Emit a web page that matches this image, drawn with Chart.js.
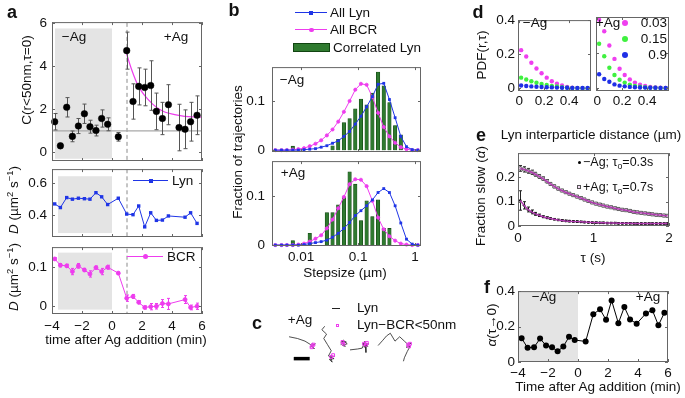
<!DOCTYPE html>
<html>
<head>
<meta charset="utf-8">
<script src="https://cdn.jsdelivr.net/npm/chart.js@4.4.1/dist/chart.umd.min.js"></script>
<style>
  html, body { margin: 0; padding: 0; background: #fff; }
  #fig { position: relative; width: 685px; height: 398px; overflow: hidden;
         font-family: "Liberation Sans", Arial, Helvetica, sans-serif; color: #111; }
  #fig canvas { position: absolute; z-index: 1; }
  .t { position: absolute; z-index: 2; font-size: 13.5px; line-height: 1; white-space: nowrap; transform: translate(-50%, -50%); }
  .l { transform: translate(0, -50%); }
  .r { transform: translate(-100%, -50%); }
  .v { transform: translate(-50%, -50%) rotate(-90deg); }
  .p { font-weight: bold; font-size: 18px; }
  .sm { font-size: 12.5px; }
  sup, sub { font-size: 70%; line-height: 0; }
  .sw { position: absolute; z-index: 2; box-sizing: border-box; }
</style>
</head>
<body>
<div id="fig">
  <!-- panel letters -->
  <div class="t p" style="left:12px;top:12px">a</div>
  <div class="t p" style="left:234px;top:10px">b</div>
  <div class="t p" style="left:257px;top:323px">c</div>
  <div class="t p" style="left:478px;top:12px">d</div>
  <div class="t p" style="left:481px;top:135px">e</div>
  <div class="t p" style="left:487px;top:287px">f</div>

  <!-- a -->
  <div class="t" style="left:74px;top:37px">&minus;Ag</div>
  <div class="t" style="left:176px;top:37px">+Ag</div>
  <div class="t v" style="left:27px;top:80px">C(r&lt;50nm,&tau;=0)</div>
  <div class="t v" style="left:14px;top:200px"><i>D</i> (&micro;m<sup>2</sup> s<sup>&minus;1</sup>)</div>
  <div class="t v" style="left:14px;top:277px"><i>D</i> (&micro;m<sup>2</sup> s<sup>&minus;1</sup>)</div>
  <div class="t" style="left:126px;top:340px">time after Ag addition (min)</div>
  <div class="sw" style="left:133px;top:180px;width:35px;border-top:1px solid #1f35e6"></div>
  <div class="sw" style="left:148.5px;top:179px;width:4px;height:4px;background:#1f35e6"></div>
  <div class="t l" style="left:172px;top:181px">Lyn</div>
  <div class="sw" style="left:127px;top:256px;width:36px;border-top:1px solid #ee3cee"></div>
  <div class="sw" style="left:142.5px;top:254px;width:5px;height:5px;border-radius:50%;background:#ee3cee"></div>
  <div class="t l" style="left:167px;top:257px">BCR</div>

  <!-- b -->
  <div class="sw" style="left:295px;top:12px;width:32px;border-top:1px solid #1f35e6"></div>
  <div class="sw" style="left:309px;top:10.5px;width:4px;height:4px;background:#1f35e6"></div>
  <div class="t l" style="left:330px;top:13px">All Lyn</div>
  <div class="sw" style="left:295px;top:29px;width:32px;border-top:1px solid #ee3cee"></div>
  <div class="sw" style="left:309px;top:27.5px;width:4.5px;height:4.5px;border-radius:50%;background:#ee3cee"></div>
  <div class="t l" style="left:330px;top:30px">All BCR</div>
  <div class="sw" style="left:293px;top:43px;width:37px;height:9px;background:#2f7a2f;border:1px solid #114411"></div>
  <div class="t l" style="left:333px;top:48px">Correlated Lyn</div>
  <div class="t" style="left:292px;top:80px">&minus;Ag</div>
  <div class="t" style="left:293px;top:173px">+Ag</div>
  <div class="t v" style="left:238px;top:152px">Fraction of trajectories</div>
  <div class="t" style="left:345px;top:273px">Stepsize (&micro;m)</div>

  <!-- c -->
  <div class="t" style="left:300px;top:320px">+Ag</div>
  <div class="sw" style="left:332px;top:308px;width:8px;border-top:1px solid #222"></div>
  <div class="t l" style="left:357px;top:308px">Lyn</div>
  <div class="sw" style="left:335.5px;top:323.5px;width:3.5px;height:3.5px;border:1px solid #ee3cee"></div>
  <div class="t l" style="left:357px;top:325px">Lyn&minus;BCR&lt;50nm</div>

  <!-- d -->
  <div class="t v" style="left:482px;top:55px">PDF(r,&tau;)</div>
  <div class="t" style="left:535px;top:23px">&minus;Ag</div>
  <div class="t" style="left:608px;top:23px">+Ag</div>
  <div class="sw" style="left:622px;top:20px;width:6px;height:6px;border-radius:50%;background:#ef3fef"></div>
  <div class="sw" style="left:622px;top:36px;width:6px;height:6px;border-radius:50%;background:#3ff03f"></div>
  <div class="sw" style="left:622px;top:52px;width:6px;height:6px;border-radius:50%;background:#1f2fe6"></div>
  <div class="t r" style="left:667px;top:23px">0.03</div>
  <div class="t r" style="left:667px;top:39px">0.15</div>
  <div class="t r" style="left:667px;top:55px">0.9</div>
  <div class="t" style="left:591px;top:135px">Lyn interparticle distance (&micro;m)</div>

  <!-- e -->
  <div class="t v" style="left:481px;top:196px">Fraction slow (<i>&alpha;</i>)</div>
  <div class="sw" style="left:577.5px;top:160.5px;width:3px;height:3px;border-radius:50%;background:#000"></div>
  <div class="t l sm" style="left:583px;top:162px">&minus;Ag; &tau;<sub>o</sub>=0.3s</div>
  <div class="sw" style="left:577px;top:185px;width:4px;height:4px;border:1px solid #555;background:#f3dcf3"></div>
  <div class="t l sm" style="left:583px;top:187px">+Ag; &tau;<sub>o</sub>=0.7s</div>
  <div class="t" style="left:593px;top:258px">&tau; (s)</div>

  <!-- f -->
  <div class="t v" style="left:492px;top:325px"><i>&alpha;</i>(&tau;&rarr;0)</div>
  <div class="t" style="left:544px;top:297px">&minus;Ag</div>
  <div class="t" style="left:648px;top:297px">+Ag</div>
  <div class="t" style="left:598px;top:387px">Time after Ag addition (min)</div>
</div>

<script>
// ---- a: colocalisation and diffusion vs time ----
const aTime = [-3.82, -3.44, -3.02, -2.64, -2.24, -1.84, -1.47, -1.07, -0.69, -0.29, 0.42, 0.98, 1.4, 1.78, 2.18, 2.58, 2.96, 3.36, 3.76, 4.47, 4.87, 5.24, 5.67];
const aCorr = [1.42, 0.3, 2.09, 0.74, 1.22, 1.79, 1.19, 1.01, 1.57, 1.3, 0.72, 4.72, 2.36, 3.06, 3.01, 3.1, 1.9, 1.57, 2.21, 1.15, 1.07, 1.42, 1.72];
const aCorrErr = [0.38, 0.12, 0.45, 0.25, 0.35, 0.45, 0.3, 0.25, 0.4, 0.3, 0.2, 0.86, 0.82, 0.86, 0.85, 1.15, 0.85, 0.75, 0.93, 1.08, 0.9, 0.9, 0.9];
const aFitT = [0.98, 1.29, 1.62, 1.96, 2.4, 2.96, 3.51, 4.18, 4.84, 5.73, 6];
const aFitC = [4.55, 3.88, 3.28, 2.84, 2.46, 2.09, 1.87, 1.75, 1.67, 1.64, 1.63];
const aTimeD = [-3.82, -3.44, -3.02, -2.64, -2.24, -1.84, -1.47, -1.07, -0.69, -0.29, 0.42, 0.98, 1.4, 1.78, 2.18, 2.58, 2.96, 3.36, 3.76, 4.87, 5.24, 5.67];
const aLynD = [0.47, 0.447, 0.51, 0.5, 0.506, 0.503, 0.5, 0.541, 0.515, 0.466, 0.506, 0.406, 0.402, 0.457, 0.325, 0.414, 0.366, 0.368, 0.394, 0.386, 0.414, 0.347];
const aBcrD = [0.12, 0.104, 0.1025, 0.088, 0.1025, 0.092, 0.082, 0.098, 0.088, 0.099, 0.084, 0.0205, 0.025, 0.01, -0.003, -0.001, 0, 0.007, 0.006, 0.017, -0.003, 0];
const aBcrErr = [0.003, 0.004, 0.004, 0.008, 0.006, 0.004, 0.008, 0.004, 0.008, 0.005, 0.003, 0.008, 0.005, 0.004, 0.004, 0.008, 0.007, 0.01, 0.014, 0.01, 0.006, 0.008];
const aTimeTicks = [-4, -2, 0, 2, 4, 6];
const aCorrTicks = [0, 2, 4, 6];
const aLynTicks = [0.4, 0.6];
const aBcrTicks = [0, 0.1];
const aBaseline = 1;
const aAgLine = 1;

// ---- b: step size histograms ----
const bStep = [0.0035, 0.0045, 0.0056, 0.0071, 0.0089, 0.0112, 0.0141, 0.0178, 0.0224, 0.0282, 0.0355, 0.0447, 0.0562, 0.0708, 0.0891, 0.112, 0.141, 0.178, 0.224, 0.282, 0.355, 0.447, 0.562, 0.708, 0.891, 1.12];
const bLynMinus = [0, 0, 0, 0, 0, 0.001, 0.002, 0.003, 0.006, 0.009, 0.014, 0.019, 0.028, 0.038, 0.053, 0.069, 0.088, 0.109, 0.134, 0.136, 0.103, 0.066, 0.028, 0.007, 0.001, 0];
const bBcrMinus = [0, 0, 0, 0.001, 0.002, 0.004, 0.008, 0.013, 0.02, 0.03, 0.042, 0.058, 0.078, 0.1, 0.123, 0.135, 0.133, 0.108, 0.076, 0.047, 0.028, 0.015, 0.006, 0.002, 0, 0];
const bCorrMinus = [0, 0, 0, 0.008, 0, 0, 0, 0, 0, 0, 0.009, 0.022, 0.056, 0.064, 0.084, 0.104, 0.092, 0.116, 0.159, 0.131, 0.097, 0.05, 0.031, 0, 0, 0];
const bLynPlus = [0, 0, 0, 0, 0, 0.001, 0.003, 0.005, 0.007, 0.01, 0.016, 0.024, 0.034, 0.046, 0.06, 0.07, 0.08, 0.092, 0.107, 0.115, 0.107, 0.08, 0.045, 0.012, 0.002, 0];
const bBcrPlus = [0, 0, 0, 0, 0.001, 0.003, 0.007, 0.013, 0.02, 0.034, 0.052, 0.075, 0.098, 0.124, 0.134, 0.133, 0.12, 0.09, 0.056, 0.032, 0.018, 0.009, 0.003, 0.001, 0, 0];
const bCorrPlus = [0, 0, 0, 0.009, 0, 0, 0.024, 0, 0, 0.066, 0.066, 0.082, 0.098, 0.149, 0.124, 0.05, 0.09, 0.058, 0.092, 0.034, 0.034, 0, 0, 0, 0, 0];
const bStepTicks = [0.01, 0.1, 1];
const bFracTicks = [0, 0.1];

// ---- c: example trajectories (arbitrary um units) ----
const cLynTracks = [
  [[1.5, 3.8], [2.4, 3.6], [3.2, 3.3], [3.8, 2.9], [4.2, 2.4], [3.9, 2.8], [4.3, 3.0], [3.8, 2.6], [4.0, 3.1]],
  [[5.3, 5.0], [5.0, 4.6], [5.5, 4.1], [5.2, 3.6], [5.6, 2.9], [6.0, 2.2], [5.7, 1.6], [6.3, 1.3], [5.8, 1.2], [6.1, 0.9], [5.9, 1.5], [6.4, 1.6]],
  [[7.0, 2.9], [7.6, 3.2], [7.1, 3.3], [7.5, 2.7], [7.2, 2.8], [7.7, 3.0], [7.3, 3.4], [7.0, 3.1]],
  [[8.0, 2.3], [8.8, 2.4], [9.3, 2.5], [9.6, 3.3], [9.5, 2.6], [10.0, 3.0], [9.3, 3.0], [9.9, 2.7], [9.6, 3.1], [9.7, 2.0]],
  [[11.0, 2.8], [11.5, 3.4], [11.9, 3.9], [12.3, 4.2], [12.8, 3.3], [13.3, 3.8], [13.8, 3.3], [14.2, 2.9], [14.5, 3.1], [14.0, 2.6], [14.4, 2.7], [14.1, 2.1], [13.8, 1.4], [13.7, 1.0]],
];
const cBcrClose = [[4.0, 2.8], [3.9, 2.6], [4.1, 2.9], [6.0, 1.5], [6.2, 1.7], [7.3, 3.0], [7.2, 3.2], [9.7, 2.9], [9.5, 3.0], [9.8, 3.1], [14.2, 2.9], [14.4, 3.0], [14.3, 2.7]];
const cScaleBar = [[2.0, 1.3], [3.7, 1.3]];

// ---- d: PDF of interparticle distance ----
const dR = [0.015, 0.056, 0.097, 0.138, 0.179, 0.22, 0.261, 0.302, 0.343, 0.384, 0.425, 0.466, 0.507, 0.548];
const dMinus003 = [0.224, 0.187, 0.15, 0.117, 0.089, 0.063, 0.042, 0.028, 0.017, 0.009, 0.005, 0.002, 0.001, 0];
const dMinus015 = [0.063, 0.052, 0.042, 0.033, 0.026, 0.02, 0.015, 0.011, 0.007, 0.005, 0.003, 0.002, 0.001, 0.001];
const dMinus09 = [0.017, 0.014, 0.012, 0.01, 0.008, 0.007, 0.006, 0.005, 0.004, 0.004, 0.003, 0.003, 0.003, 0.003];
const dPlus003 = [0.385, 0.32, 0.24, 0.165, 0.11, 0.075, 0.05, 0.032, 0.02, 0.013, 0.008, 0.005, 0.003, 0.002];
const dPlus015 = [0.25, 0.18, 0.115, 0.075, 0.048, 0.032, 0.021, 0.014, 0.009, 0.006, 0.004, 0.003, 0.002, 0.001];
const dPlus09 = [0.079, 0.052, 0.037, 0.022, 0.015, 0.011, 0.008, 0.006, 0.005, 0.004, 0.003, 0.003, 0.002, 0.002];
const dRTicks = [0, 0.2, 0.4];
const dPdfTicks = [0, 0.2, 0.4];

// ---- e: fraction slow vs lag ----
const eTau = [0.03, 0.08, 0.13, 0.18, 0.23, 0.28, 0.33, 0.38, 0.43, 0.48, 0.53, 0.58, 0.63, 0.68, 0.73, 0.78, 0.83, 0.88, 0.93, 0.98, 1.03, 1.08, 1.13, 1.18, 1.23, 1.28, 1.33, 1.38, 1.43, 1.48, 1.53, 1.58, 1.63, 1.68, 1.73, 1.78, 1.83, 1.88, 1.93, 1.98];
const ePlus = [0.237, 0.233, 0.227, 0.221, 0.213, 0.204, 0.195, 0.184, 0.173, 0.163, 0.154, 0.146, 0.139, 0.133, 0.127, 0.121, 0.115, 0.109, 0.103, 0.097, 0.092, 0.088, 0.084, 0.08, 0.077, 0.073, 0.07, 0.067, 0.065, 0.062, 0.058, 0.056, 0.054, 0.052, 0.05, 0.048, 0.046, 0.045, 0.043, 0.042];
const ePlusErr = [0.012, 0.011, 0.01, 0.009, 0.008, 0.008, 0.007, 0.007, 0.006, 0.006, 0.006, 0.005, 0.005, 0.005, 0.005, 0.005, 0.005, 0.005, 0.005, 0.005, 0.005, 0.005, 0.005, 0.005, 0.005, 0.005, 0.005, 0.005, 0.005, 0.005, 0.005, 0.005, 0.005, 0.005, 0.005, 0.005, 0.005, 0.005, 0.005, 0.005];
const eMinus = [0.105, 0.085, 0.068, 0.058, 0.05, 0.044, 0.038, 0.034, 0.031, 0.028, 0.025, 0.023, 0.021, 0.02, 0.019, 0.018, 0.017, 0.016, 0.015, 0.014, 0.014, 0.013, 0.013, 0.012, 0.012, 0.012, 0.011, 0.011, 0.011, 0.011, 0.01, 0.01, 0.01, 0.01, 0.01, 0.01, 0.01, 0.01, 0.01, 0.01];
const eMinusErr = [0.04, 0.015, 0.01, 0.008, 0.006, 0.005, 0.004, 0.004, 0.003, 0.003, 0.003, 0.003, 0.003, 0.003, 0.003, 0.003, 0.003, 0.003, 0.003, 0.003, 0.003, 0.003, 0.003, 0.003, 0.003, 0.003, 0.003, 0.003, 0.003, 0.003, 0.003, 0.003, 0.003, 0.003, 0.003, 0.003, 0.003, 0.003, 0.003, 0.003];
const eTauTicks = [0, 1, 2];
const eFracTicks = [0, 0.1, 0.2];

// ---- f: alpha(tau->0) vs time ----
const fTime = [-3.76, -3.36, -2.93, -2.53, -2.13, -1.73, -1.36, -0.98, -0.6, -0.22, 0.51, 1.02, 1.47, 1.87, 2.24, 2.69, 3.09, 3.47, 3.91, 4.53, 4.96, 5.36, 5.76];
const fAlpha = [0.134, 0.08, 0.083, 0.132, 0.093, 0.083, 0.06, 0.087, 0.142, 0.124, 0.116, 0.27, 0.297, 0.238, 0.347, 0.219, 0.31, 0.24, 0.216, 0.274, 0.292, 0.207, 0.278];
const fTimeTicks = [-4, -2, 0, 2, 4, 6];
const fAlphaTicks = [0, 0.2, 0.4];

const blue = "#1f35e6";
const magenta = "#ee3cee";
const barGreen = "#2f7a2f";
const shadeGray = "#e4e4e4";
const frameGray = "#666";
const FONT = '"Liberation Sans", Arial, Helvetica, sans-serif';
const fig = document.getElementById("fig");
const PAD = { l: 46, r: 8, t: 8, b: 26 };

const xy = (xs, ys) => xs.map((x, i) => ({ x, y: ys[i] }));
const minusSign = (v) => String(v).replace("-", "\u2212");

// grey "before antigen" block, in data units
function shade(x0, x1, y0, y1) {
  return {
    id: "shade",
    beforeDatasetsDraw(chart) {
      const { ctx, scales } = chart;
      const l = scales.x.getPixelForValue(x0), r = scales.x.getPixelForValue(x1);
      const t = scales.y.getPixelForValue(y1), b = scales.y.getPixelForValue(y0);
      ctx.save();
      ctx.fillStyle = shadeGray;
      ctx.fillRect(l, t, r - l, b - t);
      ctx.restore();
    },
  };
}

// vertical error bars from dataset.errors
const errorBars = {
  id: "errorBars",
  beforeDatasetDraw(chart, args) {
    const ds = chart.data.datasets[args.index];
    if (!ds.errors) return;
    const { ctx, chartArea: a } = chart;
    const xs = chart.scales[args.meta.xAxisID], ys = chart.scales[args.meta.yAxisID];
    const cap = ds.capWidth ?? 2;
    ctx.save();
    ctx.beginPath();
    ctx.rect(a.left, a.top, a.right - a.left, a.bottom - a.top);
    ctx.clip();
    ctx.strokeStyle = ds.errorColor || "#444";
    ctx.lineWidth = 1;
    ctx.beginPath();
    ds.data.forEach((p, i) => {
      const e = ds.errors[i];
      if (!e) return;
      const px = Math.round(xs.getPixelForValue(p.x)) + 0.5;
      const y0 = ys.getPixelForValue(p.y - e), y1 = ys.getPixelForValue(p.y + e);
      ctx.moveTo(px, y0); ctx.lineTo(px, y1);
      if (cap) {
        ctx.moveTo(px - cap, y0); ctx.lineTo(px + cap, y0);
        ctx.moveTo(px - cap, y1); ctx.lineTo(px + cap, y1);
      }
    });
    ctx.stroke();
    ctx.restore();
  },
};

// matlab style box with inward ticks on all sides
const frame = {
  id: "frame",
  afterDatasetsDraw(chart) {
    const { ctx, chartArea: a, scales } = chart;
    const L = 3;
    ctx.save();
    ctx.strokeStyle = frameGray;
    ctx.lineWidth = 1;
    ctx.beginPath();
    scales.x.ticks.forEach((t) => {
      const p = Math.round(scales.x.getPixelForValue(t.value)) + 0.5;
      ctx.moveTo(p, a.bottom); ctx.lineTo(p, a.bottom - L);
      ctx.moveTo(p, a.top); ctx.lineTo(p, a.top + L);
    });
    scales.y.ticks.forEach((t) => {
      const p = Math.round(scales.y.getPixelForValue(t.value)) + 0.5;
      ctx.moveTo(a.left, p); ctx.lineTo(a.left + L, p);
      ctx.moveTo(a.right, p); ctx.lineTo(a.right - L, p);
    });
    ctx.stroke();
    ctx.strokeRect(a.left + 0.5, a.top + 0.5, a.right - a.left - 1, a.bottom - a.top - 1);
    ctx.restore();
  },
};

function axis(o, dir) {
  return {
    type: "linear",
    min: o.min,
    max: o.max,
    offset: false,
    grid: { display: false, drawTicks: false, offset: false },
    border: { display: false },
    afterBuildTicks: (s) => { s.ticks = o.ticks.map((v) => ({ value: v })); },
    afterFit: (s) => { if (dir === "x") s.height = PAD.b; else s.width = PAD.l; },
    ticks: {
      display: o.labels !== false,
      padding: o.pad ?? 3,
      color: "#111",
      font: { family: FONT, size: 13.5 },
      maxRotation: 0,
      autoSkip: false,
      callback: (v) => (o.fmt ? o.fmt(v) : minusSign(v)),
    },
  };
}

function panel(box, datasets, opt) {
  const [l, t, r, b] = box;
  const cv = document.createElement("canvas");
  cv.width = r - l + PAD.l + PAD.r;
  cv.height = b - t + PAD.t + PAD.b;
  cv.style.left = l - PAD.l + "px";
  cv.style.top = t - PAD.t + "px";
  fig.appendChild(cv);
  return new Chart(cv, {
    type: opt.type || "line",
    data: { datasets },
    options: {
      responsive: false,
      animation: false,
      events: [],
      layout: { padding: { top: PAD.t, right: PAD.r, left: 0, bottom: 0 } },
      plugins: { legend: { display: false }, tooltip: { enabled: false } },
      scales: { x: axis(opt.x, "x"), y: axis(opt.y, "y") },
    },
    plugins: [...(opt.plugins || []), errorBars, frame],
  });
}

const agLine = (y0, y1) => ({
  data: [{ x: aAgLine, y: y0 }, { x: aAgLine, y: y1 }],
  borderColor: "#8a8a8a", borderWidth: 1, borderDash: [4, 3], pointRadius: 0,
});

// a, top: colocalisation
panel([52, 17, 202, 161], [
  { data: xy(aTime, aCorr), showLine: false, pointRadius: 3.3, pointBorderWidth: 0.5,
    pointBackgroundColor: "#000", pointBorderColor: "#000", errors: aCorrErr, errorColor: "#555", capWidth: 2, clip: 5 },
  { data: xy(aFitT, aFitC), borderColor: magenta, borderWidth: 1.2, pointRadius: 0, cubicInterpolationMode: "monotone" },
  { data: [{ x: -4, y: aBaseline }, { x: 6, y: aBaseline }], borderColor: "#a8a8a8", borderWidth: 1.3, pointRadius: 0 },
  agLine(-1, 7),
], {
  x: { min: -4, max: 6, ticks: aTimeTicks, labels: false },
  y: { min: -0.403, max: 6.045, ticks: aCorrTicks, pad: 5 },
  plugins: [shade(-3.8, 0, -0.3, 5.75)],
});

// a, middle: Lyn diffusion
panel([52, 164, 202, 237], [
  { data: xy(aTimeD, aLynD), borderColor: blue, borderWidth: 1, pointStyle: "rect", pointRadius: 2.4,
    pointBackgroundColor: blue, pointBorderColor: blue, pointBorderWidth: 0 },
  agLine(0, 1),
], {
  x: { min: -4, max: 6, ticks: aTimeTicks, labels: false },
  y: { min: 0.261, max: 0.69, ticks: aLynTicks, pad: 5 },
  plugins: [shade(-3.6, 0, 0.286, 0.645)],
});

// a, bottom: BCR diffusion
panel([52, 242, 202, 314], [
  { data: xy(aTimeD, aBcrD), borderColor: magenta, borderWidth: 1, pointRadius: 2, pointBorderWidth: 0.8,
    pointBackgroundColor: magenta, pointBorderColor: magenta, errors: aBcrErr, errorColor: magenta, capWidth: 1.5 },
  agLine(-1, 1),
], {
  x: { min: -4, max: 6, ticks: aTimeTicks, pad: 4 },
  y: { min: -0.0196, max: 0.15, ticks: aBcrTicks, pad: 5 },
  plugins: [shade(-3.6, 0, -0.0085, 0.136)],
});

// b: step size distributions on a log10 axis
function stepSets(lyn, bcr, corr) {
  const lx = bStep.map((s) => Math.log10(s));
  return [
    { type: "line", data: xy(lx, lyn), borderColor: blue, borderWidth: 1, pointStyle: "rect", pointRadius: 2,
      pointBackgroundColor: blue, pointBorderColor: blue, pointBorderWidth: 0, clip: 4 },
    { type: "line", data: xy(lx, bcr), borderColor: magenta, borderWidth: 1, pointRadius: 1.6, pointBorderWidth: 0.8,
      pointBackgroundColor: magenta, pointBorderColor: magenta, clip: 4 },
    { type: "bar", data: lx.map((x, i) => ({ x, y: corr[i] || null })), backgroundColor: barGreen,
      borderColor: "#114411", borderWidth: 0.6, barThickness: 3.5 },
  ];
}
const bX = { min: -2.514, max: 0.105, ticks: bStepTicks.map((v) => Math.log10(v)),
             fmt: (v) => String(+(10 ** v).toPrecision(3)), pad: 3 };
panel([272, 60, 421, 152], stepSets(bLynMinus, bBcrMinus, bCorrMinus), {
  type: "bar",
  x: { ...bX, labels: false },
  y: { min: -0.0038, max: 0.169, ticks: bFracTicks, pad: 7 },
});
panel([272, 154, 421, 246], stepSets(bLynPlus, bBcrPlus, bCorrPlus), {
  type: "bar",
  x: bX,
  y: { min: -0.0019, max: 0.171, ticks: bFracTicks, pad: 7 },
});

// c: trajectories, no axes
(function () {
  const cv = document.createElement("canvas");
  cv.width = 160; cv.height = 80;
  cv.style.left = "270px"; cv.style.top = "295px";
  fig.appendChild(cv);
  const sets = cLynTracks.map((tr) => ({
    data: tr.map(([x, y]) => ({ x, y })), borderColor: "#222", borderWidth: 0.8, pointRadius: 0, clip: false,
  }));
  sets.unshift({ data: cBcrClose.map(([x, y]) => ({ x, y })), showLine: false, pointStyle: "rect", pointRadius: 2,
    pointBorderColor: magenta, pointBackgroundColor: "rgba(0,0,0,0)", pointBorderWidth: 1, clip: false });
  sets.push({ data: cScaleBar.map(([x, y]) => ({ x, y })), borderColor: "#000", borderWidth: 3.5, pointRadius: 0,
    borderCapStyle: "butt", clip: false });
  new Chart(cv, {
    type: "line",
    data: { datasets: sets },
    options: {
      responsive: false, animation: false, events: [],
      layout: { padding: 0 },
      plugins: { legend: { display: false }, tooltip: { enabled: false } },
      scales: { x: { type: "linear", display: false, min: 0, max: 16 }, y: { type: "linear", display: false, min: 0, max: 8 } },
    },
  });
})();

// d: PDFs for three lag times
const dDot = (ys, c) => ({ data: xy(dR, ys), showLine: false, pointRadius: 2.2, pointBorderWidth: 0,
  pointBackgroundColor: c, pointBorderColor: c, clip: 4 });
panel([518, 17, 591, 91], [dDot(dMinus09, "#1f2fe6"), dDot(dMinus015, "#3ff03f"), dDot(dMinus003, "#ef3fef")], {
  x: { min: -0.01, max: 0.575, ticks: dRTicks, pad: 2 },
  y: { min: -0.015, max: 0.4, ticks: dPdfTicks, pad: 3 },
});
panel([596, 17, 669, 91], [dDot(dPlus09, "#1f2fe6"), dDot(dPlus015, "#3ff03f"), dDot(dPlus003, "#ef3fef")], {
  x: { min: -0.01, max: 0.575, ticks: dRTicks, pad: 2 },
  y: { min: -0.015, max: 0.4, ticks: dPdfTicks, labels: false },
});

// e: fraction slow vs tau
panel([518, 150, 669, 226], [
  { data: xy(eTau, ePlus), borderColor: "#b13cb1", borderWidth: 1.5, pointRadius: 0 },
  { data: xy(eTau, eMinus), borderColor: "#b13cb1", borderWidth: 1.5, pointRadius: 0 },
  { data: xy(eTau, eMinus), showLine: false, pointRadius: 1.3, pointBorderWidth: 0, pointBackgroundColor: "#000",
    errors: eMinusErr, errorColor: "#222", capWidth: 1.5 },
  { data: xy(eTau, ePlus), showLine: false, pointStyle: "rect", pointRadius: 2.2, pointBorderWidth: 0.8,
    pointBackgroundColor: "#f3dcf3", pointBorderColor: "#555", errors: ePlusErr, errorColor: "#333", capWidth: 1.5 },
], {
  x: { min: 0, max: 2, ticks: eTauTicks, pad: 4 },
  y: { min: 0, max: 0.3, ticks: eFracTicks, pad: 3 },
});

// f: alpha at short lag vs time
panel([518, 288, 668, 362], [
  { data: xy(fTime, fAlpha), borderColor: "#000", borderWidth: 1, pointRadius: 3, pointBorderWidth: 0,
    pointBackgroundColor: "#000", clip: 4 },
], {
  x: { min: -4, max: 6, ticks: fTimeTicks, pad: 3 },
  y: { min: 0, max: 0.4, ticks: fAlphaTicks, pad: 3 },
  plugins: [shade(-4, 0, 0, 0.4)],
});
</script>
</body>
</html>
